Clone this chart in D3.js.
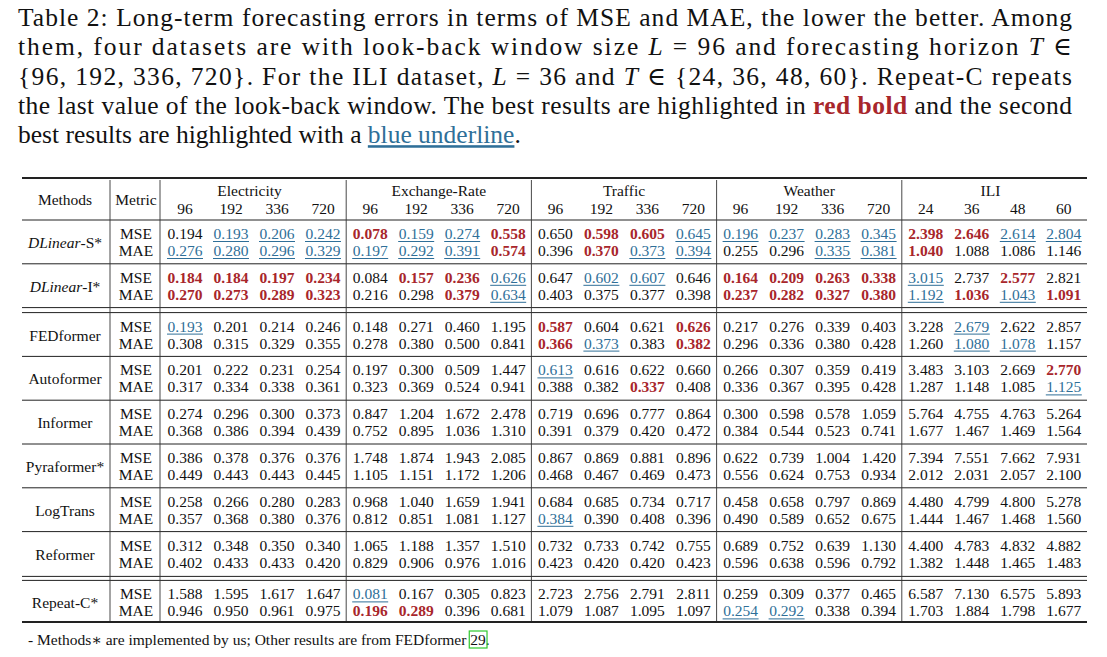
<!DOCTYPE html>
<html><head><meta charset="utf-8">
<script src="https://cdn.jsdelivr.net/npm/d3@7"></script>
<style>body{margin:0;background:#fff}svg{display:block}svg text{font-family:"Liberation Serif","Times New Roman","DejaVu Serif",serif}</style></head>
<body><svg id="c" width="1107" height="657"></svg>
<script>
const datasets = ["Electricity","Exchange-Rate","Traffic","Weather","ILI"];
const horizons = [["96","192","336","720"],["96","192","336","720"],["96","192","336","720"],["96","192","336","720"],["24","36","48","60"]];
const methods = ["DLinear-S*","DLinear-I*","FEDformer","Autoformer","Informer","Pyraformer*","LogTrans","Reformer","Repeat-C*"];
// prefix r = red bold (best), u = blue underline (second best)
const mse = [
"0.194 u0.193 u0.206 u0.242 r0.078 u0.159 u0.274 r0.558 0.650 r0.598 r0.605 u0.645 u0.196 u0.237 u0.283 u0.345 r2.398 r2.646 u2.614 u2.804",
"r0.184 r0.184 r0.197 r0.234 0.084 r0.157 r0.236 u0.626 0.647 u0.602 u0.607 0.646 r0.164 r0.209 r0.263 r0.338 u3.015 2.737 r2.577 2.821",
"u0.193 0.201 0.214 0.246 0.148 0.271 0.460 1.195 r0.587 0.604 0.621 r0.626 0.217 0.276 0.339 0.403 3.228 u2.679 2.622 2.857",
"0.201 0.222 0.231 0.254 0.197 0.300 0.509 1.447 u0.613 0.616 0.622 0.660 0.266 0.307 0.359 0.419 3.483 3.103 2.669 r2.770",
"0.274 0.296 0.300 0.373 0.847 1.204 1.672 2.478 0.719 0.696 0.777 0.864 0.300 0.598 0.578 1.059 5.764 4.755 4.763 5.264",
"0.386 0.378 0.376 0.376 1.748 1.874 1.943 2.085 0.867 0.869 0.881 0.896 0.622 0.739 1.004 1.420 7.394 7.551 7.662 7.931",
"0.258 0.266 0.280 0.283 0.968 1.040 1.659 1.941 0.684 0.685 0.734 0.717 0.458 0.658 0.797 0.869 4.480 4.799 4.800 5.278",
"0.312 0.348 0.350 0.340 1.065 1.188 1.357 1.510 0.732 0.733 0.742 0.755 0.689 0.752 0.639 1.130 4.400 4.783 4.832 4.882",
"1.588 1.595 1.617 1.647 u0.081 0.167 0.305 0.823 2.723 2.756 2.791 2.811 0.259 0.309 0.377 0.465 6.587 7.130 6.575 5.893"];
const mae = [
"u0.276 u0.280 u0.296 u0.329 u0.197 u0.292 u0.391 r0.574 0.396 r0.370 u0.373 u0.394 0.255 0.296 u0.335 u0.381 r1.040 1.088 1.086 1.146",
"r0.270 r0.273 r0.289 r0.323 0.216 0.298 r0.379 u0.634 0.403 0.375 0.377 0.398 r0.237 r0.282 r0.327 r0.380 u1.192 r1.036 u1.043 r1.091",
"0.308 0.315 0.329 0.355 0.278 0.380 0.500 0.841 r0.366 u0.373 0.383 r0.382 0.296 0.336 0.380 0.428 1.260 u1.080 u1.078 1.157",
"0.317 0.334 0.338 0.361 0.323 0.369 0.524 0.941 0.388 0.382 r0.337 0.408 0.336 0.367 0.395 0.428 1.287 1.148 1.085 u1.125",
"0.368 0.386 0.394 0.439 0.752 0.895 1.036 1.310 0.391 0.379 0.420 0.472 0.384 0.544 0.523 0.741 1.677 1.467 1.469 1.564",
"0.449 0.443 0.443 0.445 1.105 1.151 1.172 1.206 0.468 0.467 0.469 0.473 0.556 0.624 0.753 0.934 2.012 2.031 2.057 2.100",
"0.357 0.368 0.380 0.376 0.812 0.851 1.081 1.127 u0.384 0.390 0.408 0.396 0.490 0.589 0.652 0.675 1.444 1.467 1.468 1.560",
"0.402 0.433 0.433 0.420 0.829 0.906 0.976 1.016 0.423 0.420 0.420 0.423 0.596 0.638 0.596 0.792 1.382 1.448 1.465 1.483",
"0.946 0.950 0.961 0.975 r0.196 r0.289 0.396 0.681 1.079 1.087 1.095 1.097 u0.254 u0.292 0.338 0.394 1.703 1.884 1.798 1.677"];

const svg = d3.select("#c");
const RED = "#a8262b", BLUE = "#2f6f98";

// caption
const cap = [
 [["Table 2:  Long-term forecasting errors in terms of MSE and MAE, the lower the better.  Among"]],
 [["them, four datasets are with look-back window size "],["L","i"],["  =  96 and forecasting horizon "],["T","i"],["  ∈"]],
 [["{96, 192, 336, 720}.  For the ILI dataset, "],["L","i"],[" = 36 and "],["T","i"],[" ∈ {24, 36, 48, 60}.  Repeat-C repeats"]],
 [["the last value of the look-back window. The best results are highlighted in "],["red bold","r"],[" and the second"]],
 [["best results are highlighted with a "],["blue underline","u"],["."]]];
cap.forEach((line,i)=>{
  const t = svg.append("text").attr("x",18).attr("y",26+i*29.3).attr("font-size",25.5).attr("fill","#111");
  if(i<4) t.attr("textLength",1054).attr("lengthAdjust","spacing");
  line.forEach(([s,st])=>{
    const sp=t.append("tspan").text(s);
    if(st==="i") sp.attr("font-style","italic");
    if(st==="r") sp.attr("font-weight","bold").attr("fill",RED);
    if(st==="u") sp.attr("fill",BLUE).attr("text-decoration","underline");
  });
});

// scales
const gx = d3.scaleBand().domain(datasets).range([161,1087]);
const ix = d3.scalePoint().domain([0,1,2,3]).range([24,162]);
const colX = (g,k)=>gx(datasets[g])+ix(k);
const gy = d3.scaleLinear().domain([0,8]).range([234,584.4]);
const rowY = g=>gy(g)+(g>=2?5:0)+(g>=8?5:0);
const L=22,R=1087;

function hline(y,w){svg.append("line").attr("x1",L).attr("x2",R).attr("y1",y).attr("y2",y).attr("stroke","#222").attr("stroke-width",w);}
function vline(x,y1,y2){svg.append("line").attr("x1",x).attr("x2",x).attr("y1",y1).attr("y2",y2).attr("stroke","#333").attr("stroke-width",0.9);}
function txt(x,y,s,o={}){return svg.append("text").attr("x",x).attr("y",y).attr("text-anchor",o.a||"middle").attr("font-size",o.s||15.5).attr("fill",o.f||"#111").attr("font-weight",o.w||null).text(s);}

hline(178,1.8); hline(220,1);
methods.forEach((m,g)=>{
  const y=rowY(g);
  if(g===1||g>=3&&g<=7) hline(y-14,1);
  if(g===2){hline(y-19,1);hline(y-14,1);}
  if(g===8){hline(y-18,1);hline(y-14,1);}
});
hline(622,1.8);
const vx=[110,160];datasets.forEach((d,i)=>{if(i>0)vx.push(gx(d));});
vx.forEach(x=>vline(x,180,621));

// header
txt(65,205,"Methods"); txt(136,205,"Metric");
datasets.forEach((d,g)=>{
  txt(gx(d)+gx.bandwidth()/2-(g===4?4:0)+(g===0?-4:0),196,d);
  horizons[g].forEach((h,k)=>txt(colX(g,k),214,h));
});

// body
methods.forEach((m,g)=>{
  const y=rowY(g);
  const t=txt(65,y+14,"",{});
  if(m.startsWith("DLinear")){
    t.append("tspan").attr("font-style","italic").text("DLinear");
    t.append("tspan").text("-"+m.slice(8));
  } else t.text(m);
  txt(136,y+5,"MSE"); txt(136,y+22,"MAE");
  [mse[g],mae[g]].forEach((row,r)=>{
    row.split(" ").forEach((v,j)=>{
      const g2=Math.floor(j/4),k=j%4;
      const st=v[0]==="r"||v[0]==="u"?v[0]:"";
      const val=st?v.slice(1):v;
      const x=colX(g2,k), yy=y+5+r*17;
      txt(x,yy,val,{f:st==="r"?RED:st==="u"?BLUE:"#111",w:st==="r"?"bold":null});
      if(st==="u") svg.append("line").attr("x1",x-18).attr("x2",x+18).attr("y1",yy+2.5).attr("y2",yy+2.5).attr("stroke",BLUE).attr("stroke-width",1);
    });
  });
});

// footnote
const fn=txt(28,645,"",{a:"start",s:15.5});
fn.append("tspan").text("- Methods∗ are implemented by us; Other results are from FEDformer ");
fn.append("tspan").attr("id","ref").text("29");
fn.append("tspan").text(".");
const bb=document.getElementById("ref").getBBox();
svg.append("rect").attr("x",bb.x-1).attr("y",bb.y).attr("width",bb.width+2).attr("height",bb.height).attr("fill","none").attr("stroke","#2ec82e").attr("stroke-width",1.2);
</script></body></html>
